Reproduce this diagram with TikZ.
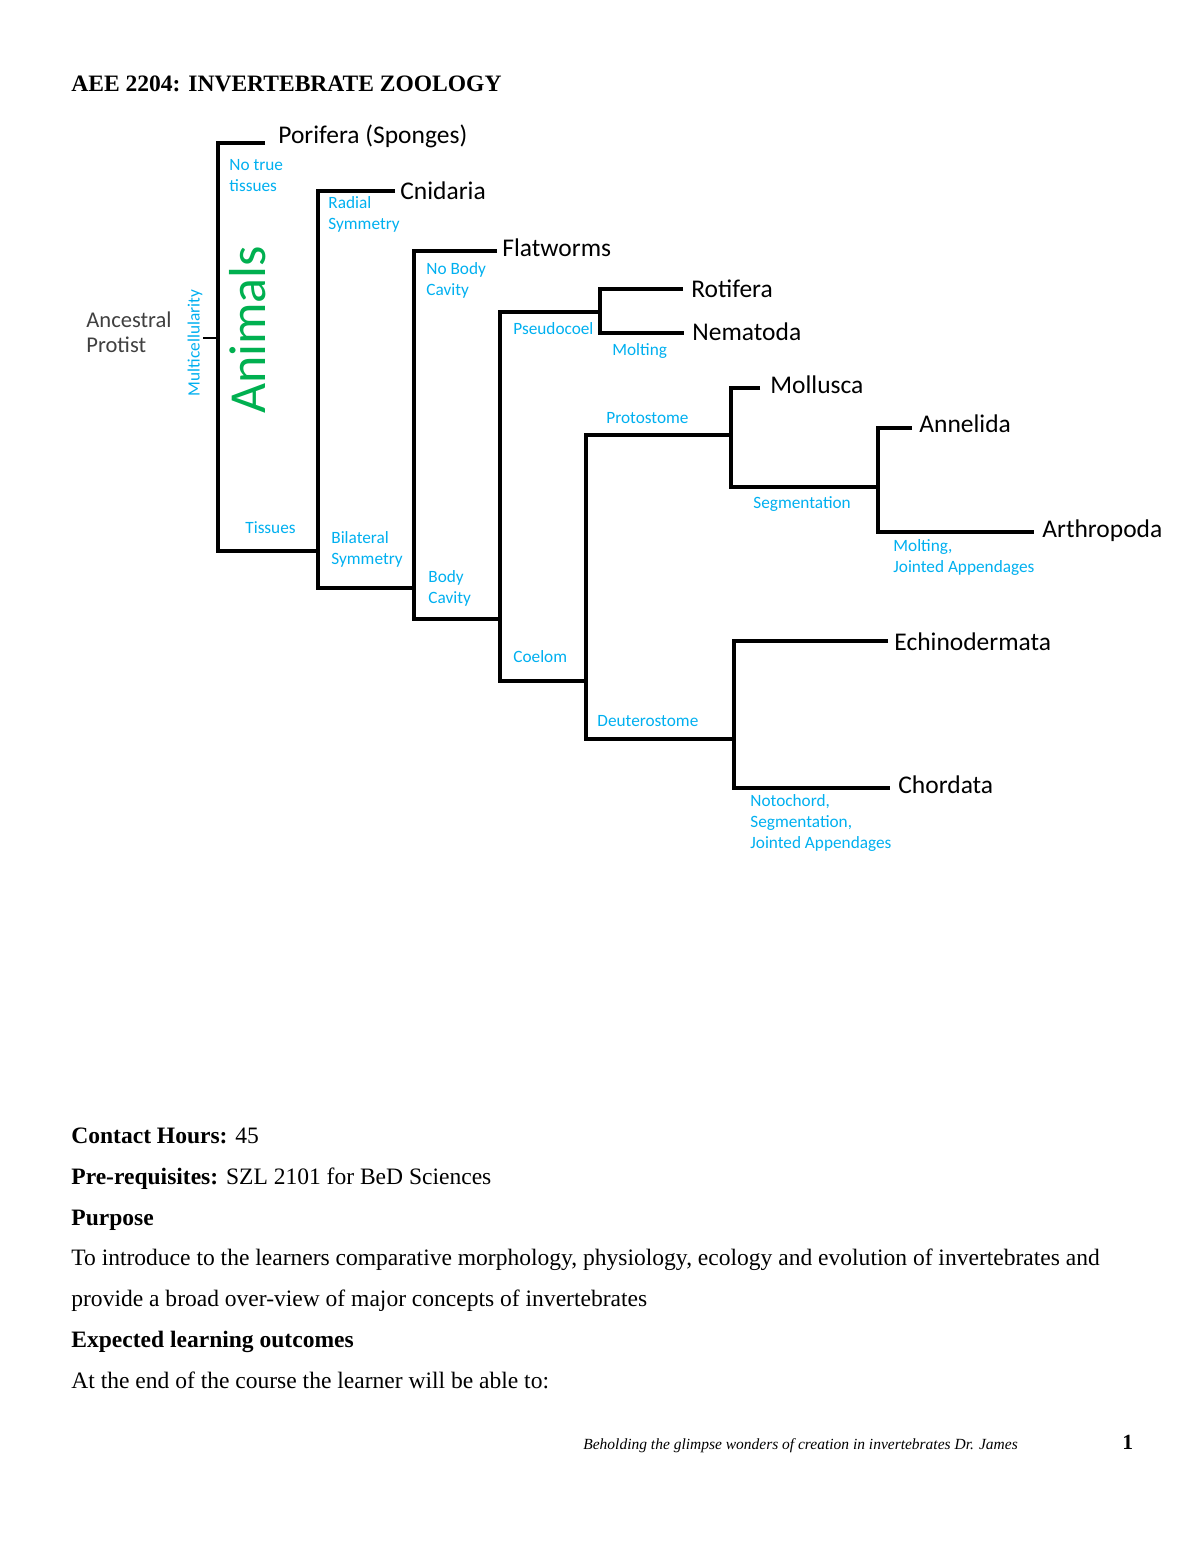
\documentclass[tikz,border=0pt]{standalone}
\usepackage{fontspec}
\setmainfont{Liberation Serif}
\newfontfamily\treefont{Carlito}
\definecolor{traitblue}{HTML}{00B0F0}
\definecolor{animalgreen}{HTML}{00B050}
\definecolor{protistgray}{HTML}{404040}
\tikzset{
  branch/.style={line width=1.9pt},
  taxon/.style={anchor=west, inner sep=0pt, font=\treefont\fontsize{13}{15}\selectfont},
  trait/.style={anchor=west, inner sep=0pt, align=left, text=traitblue, font=\treefont\fontsize{8.8}{10.7}\selectfont},
  bodytext/.style={anchor=base west, inner sep=0pt, font=\fontsize{12}{14}\selectfont}
}
\begin{document}
\begin{tikzpicture}[x=0.51pt, y=-0.51pt]
  \useasboundingbox (0,0) rectangle (1200,1553);
  \fill[white] (0,0) rectangle (1200,1553);

  \node[bodytext] (title) at (71,92) {\textbf{AEE 2204: INVERTEBRATE ZOOLOGY}};

  % junctions
  \coordinate (r0) at (203,338);
  \coordinate (a1) at (218,338);
  \coordinate (b1) at (318,551);
  \coordinate (c1) at (414,588);
  \coordinate (d1) at (500,619);
  \coordinate (p1) at (600,312);
  \coordinate (e1) at (586,681);
  \coordinate (pr1) at (731,435);
  \coordinate (se1) at (878,487);
  \coordinate (de1) at (734,739);

  % branch tips
  \coordinate (t-por) at (265,143);
  \coordinate (t-cni) at (395,191);
  \coordinate (t-fla) at (497,251);
  \coordinate (t-rot) at (683,289);
  \coordinate (t-nem) at (684,333);
  \coordinate (t-mol) at (760,388);
  \coordinate (t-ann) at (912,428);
  \coordinate (t-art) at (1034,532);
  \coordinate (t-ech) at (888,641);
  \coordinate (t-cho) at (890,788);

  \draw[line width=1.2pt] (r0) -- (a1);
  \draw[branch] (t-por) -| (a1) |- (b1);
  \draw[branch] (t-cni) -| (b1) |- (c1);
  \draw[branch] (t-fla) -| (c1) |- (d1);
  \draw[branch] (p1) -| (d1) |- (e1);
  \draw[branch] (t-rot) -| (p1) |- (t-nem);
  \draw[branch] (pr1) -| (e1) |- (de1);
  \draw[branch] (t-mol) -| (pr1) |- (se1);
  \draw[branch] (t-ann) -| (se1) |- (t-art);
  \draw[branch] (t-ech) -| (de1) |- (t-cho);

  % taxa
  \node[taxon] (por) at (278,136) {Porifera (Sponges)};
  \node[taxon] (cni) at (400,191) {Cnidaria};
  \node[taxon] (fla) at (502,248) {Flatworms};
  \node[taxon] (rot) at (691,289) {Rotifera};
  \node[taxon] (nem) at (692,332) {Nematoda};
  \node[taxon] (mol) at (770,385) {Mollusca};
  \node[taxon] (ann) at (919,424) {Annelida};
  \node[taxon] (art) at (1042,531) {Arthropoda};
  \node[taxon] (ech) at (894,642) {Echinodermata};
  \node[taxon] (cho) at (898,785) {Chordata};
  \node[taxon, align=left, text=protistgray, font=\treefont\fontsize{11.5}{12.8}\selectfont] (anc) at (86,332) {Ancestral\\Protist};
  \node[rotate=90, inner sep=0pt, text=animalgreen, font=\treefont\fontsize{26.5}{30}\selectfont] (animals) at (248,330) {Animals};

  % traits
  \node[trait, rotate=90, anchor=center] (multi) at (195,343) {Multicellularity};
  \node[trait] (notrue) at (229,176) {No true\\tissues};
  \node[trait] (radial) at (328,214) {Radial\\Symmetry};
  \node[trait] (nobody) at (426,280) {No Body\\Cavity};
  \node[trait] (pseudo) at (513,329) {Pseudocoel};
  \node[trait] (molt1) at (612,351) {Molting};
  \node[trait] (proto) at (606,418) {Protostome};
  \node[trait] (segm) at (753,504) {Segmentation};
  \node[trait] (molt2) at (893,557) {Molting,\\Jointed Appendages};
  \node[trait] (tiss) at (245,528) {Tissues};
  \node[trait] (bilat) at (331,549) {Bilateral\\Symmetry};
  \node[trait] (body) at (428,588) {Body\\Cavity};
  \node[trait] (coel) at (513,657) {Coelom};
  \node[trait] (deut) at (597,721) {Deuterostome};
  \node[trait] (noto) at (750,823) {Notochord,\\Segmentation,\\Jointed Appendages};

  % course text
  \node[bodytext] (hours) at (71,1143) {\textbf{Contact Hours:} 45};
  \node[bodytext] (prereq) at (71,1184) {\textbf{Pre-requisites:} SZL 2101 for BeD Sciences};
  \node[bodytext] (purpose) at (71,1225) {\textbf{Purpose}};
  \node[bodytext] (intro1) at (71,1265) {To introduce to the learners comparative morphology, physiology, ecology and evolution of invertebrates and};
  \node[bodytext] (intro2) at (71,1306) {provide a broad over-view of major concepts of invertebrates};
  \node[bodytext] (outcomes) at (71,1347) {\textbf{Expected learning outcomes}};
  \node[bodytext] (atend) at (71,1388) {At the end of the course the learner will be able to:};

  % footer
  \node[bodytext, font=\itshape\fontsize{7.9}{9}\selectfont] (footer) at (583,1449) {Beholding the glimpse wonders of creation in invertebrates Dr. James};
  \node[bodytext, font=\bfseries\fontsize{11}{13}\selectfont] (page) at (1122,1449) {1};
\end{tikzpicture}
\end{document}
